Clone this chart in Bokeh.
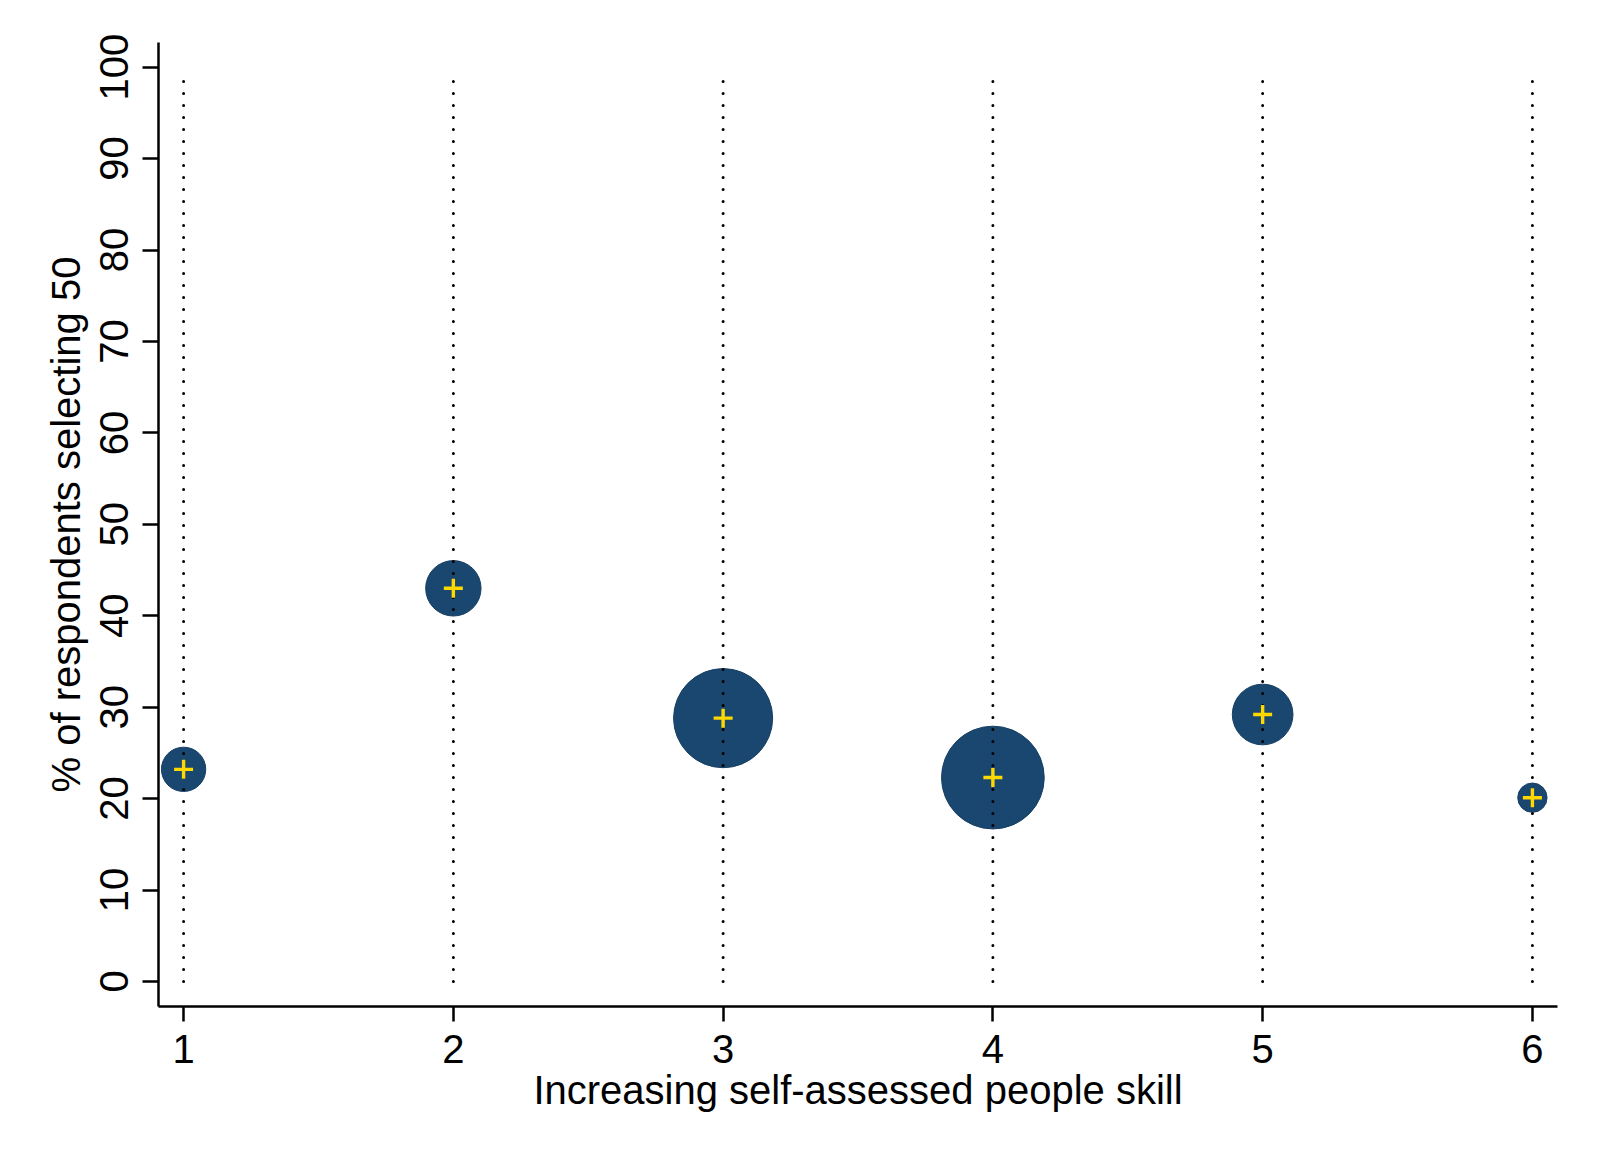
from bokeh.plotting import figure
from bokeh.models import Range1d, FixedTicker, ColumnDataSource
from bokeh.embed import file_html
from bokeh.resources import INLINE
import numpy as np

# Self-assessed people skill levels, share selecting 50, respondents per level
skill = [1, 2, 3, 4, 5, 6]
pct_50 = [23.2, 43.0, 28.8, 22.3, 29.2, 20.1]
respondents = [16, 25, 80, 86, 30, 7]
y_ticks = [0, 10, 20, 30, 40, 50, 60, 70, 80, 90, 100]

FONT = "Liberation Sans"
NAVY = "#1a476f"
GOLD = "#ffd800"

# bubble area proportional to number of respondents
diam = [11.08 * np.sqrt(n) for n in respondents]
src = ColumnDataSource(dict(x=skill, y=pct_50, d=diam,
                            y0=[0] * len(skill), y1=[99] * len(skill)))

p = figure(width=1600, height=1164, output_backend="svg", toolbar_location=None,
           x_range=Range1d(0.907, 6.093), y_range=Range1d(-2.74, 102.7),
           min_border_left=158, min_border_right=43, min_border_top=42,
           min_border_bottom=158)
p.outline_line_color = None
p.background_fill_color = "white"
p.border_fill_color = "white"
p.xgrid.visible = False
p.ygrid.visible = False

p.scatter("x", "y", size="d", source=src, fill_color=NAVY,
          line_color="#173f63", line_width=1)
p.segment(x0="x", y0="y0", x1="x", y1="y1", source=src, line_color="black",
          line_width=3, line_dash="0 12", line_cap="round")
p.scatter("x", "y", source=src, marker="cross", size=19, line_color=GOLD,
          line_width=3.4)

for ax in (p.xaxis[0], p.yaxis[0]):
    ax.axis_line_width = 2.5
    ax.axis_line_color = "black"
    ax.major_tick_line_width = 2.5
    ax.major_tick_line_color = "black"
    ax.major_tick_in = 0
    ax.minor_tick_line_color = None
    ax.major_label_text_font = FONT
    ax.major_label_text_font_size = "40px"
    ax.major_label_text_color = "black"
    ax.axis_label_text_font = FONT
    ax.axis_label_text_font_size = "40px"
    ax.axis_label_text_font_style = "normal"
    ax.axis_label_text_color = "black"

p.xaxis.ticker = FixedTicker(ticks=skill)
p.xaxis.major_tick_out = 15
p.xaxis.major_label_standoff = 13
p.xaxis.axis_label = "Increasing self-assessed people skill"
p.xaxis.axis_label_standoff = 2

p.yaxis.ticker = FixedTicker(ticks=y_ticks)
p.yaxis.major_tick_out = 16
p.yaxis.major_label_standoff = 14
p.yaxis.major_label_orientation = "vertical"
p.yaxis.axis_label = "% of respondents selecting 50"
p.yaxis.axis_label_standoff = 10

open("out.html", "w").write(file_html(p, INLINE))
